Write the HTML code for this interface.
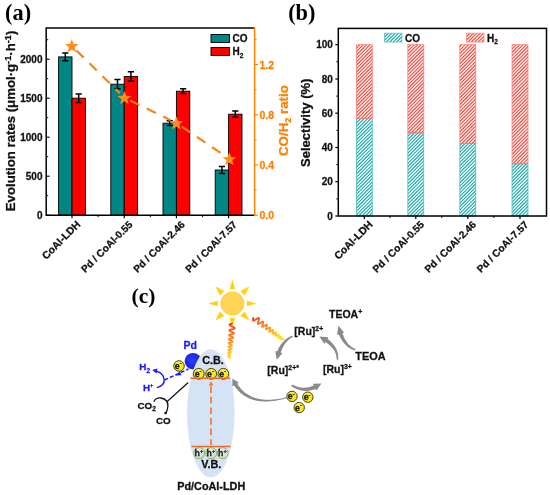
<!DOCTYPE html><html><head><meta charset="utf-8"><title>Figure</title><style>html,body{margin:0;padding:0;background:#fff}svg{display:block}text{font-family:"Liberation Sans",Arial,sans-serif;font-weight:bold}.ser{font-family:"Liberation Serif","Times New Roman",serif}</style></head><body>
<svg width="550" height="495" viewBox="0 0 550 495">
<defs>
<pattern id="ht" width="2.3" height="2.3" patternUnits="userSpaceOnUse" patternTransform="rotate(-45)"><rect width="2.3" height="2.3" fill="#fff"/><rect width="2.3" height="1.15" fill="#1fa3a3"/></pattern>
<pattern id="hr" width="2.3" height="2.3" patternUnits="userSpaceOnUse" patternTransform="rotate(-45)"><rect width="2.3" height="2.3" fill="#fff"/><rect width="2.3" height="1.15" fill="#ff4238"/></pattern>
<radialGradient id="sun" cx="0.5" cy="0.5" r="0.5"><stop offset="0" stop-color="#ffd86a"/><stop offset="0.7" stop-color="#ffc840"/><stop offset="1" stop-color="#ffb820"/></radialGradient>
<radialGradient id="eg" cx="0.4" cy="0.35" r="0.7"><stop offset="0" stop-color="#fff45a"/><stop offset="1" stop-color="#f5df00"/></radialGradient>
<linearGradient id="sq1" x1="0" y1="0" x2="0" y2="1"><stop offset="0" stop-color="#f2401a"/><stop offset="0.45" stop-color="#fb8c2a"/><stop offset="1" stop-color="#ffe21a"/></linearGradient>
<linearGradient id="sq2" x1="0" y1="0" x2="1" y2="0.7"><stop offset="0" stop-color="#f2401a"/><stop offset="0.45" stop-color="#fb8c2a"/><stop offset="1" stop-color="#ffe21a"/></linearGradient>
<radialGradient id="pdg" cx="0.45" cy="0.45" r="0.6"><stop offset="0" stop-color="#2a3cff"/><stop offset="1" stop-color="#1420d0"/></radialGradient>
<radialGradient id="hg" cx="0.5" cy="0.4" r="0.6"><stop offset="0" stop-color="#f4f6f2"/><stop offset="1" stop-color="#cfd8cc"/></radialGradient>
</defs>
<rect width="550" height="495" fill="#fff"/>
<text class="ser" x="5.1" y="19.6" font-size="22.3">(a)</text>
<rect x="58.6" y="56.9" width="13.4" height="158.3" fill="#008685" stroke="#000" stroke-width="0.9"/>
<rect x="72.0" y="98.2" width="13.4" height="117.0" fill="#ff0000" stroke="#000" stroke-width="0.9"/>
<path d="M65.3 53.0V60.8M62.2 53.0h6.2M62.2 60.8h6.2" stroke="#000" stroke-width="1.5" fill="none"/>
<path d="M78.7 93.9V102.5M75.6 93.9h6.2M75.6 102.5h6.2" stroke="#000" stroke-width="1.5" fill="none"/>
<rect x="110.8" y="84.2" width="13.4" height="131.0" fill="#008685" stroke="#000" stroke-width="0.9"/>
<rect x="124.2" y="76.4" width="13.4" height="138.8" fill="#ff0000" stroke="#000" stroke-width="0.9"/>
<path d="M117.5 79.5V88.8M114.4 79.5h6.2M114.4 88.8h6.2" stroke="#000" stroke-width="1.5" fill="none"/>
<path d="M130.9 71.7V81.0M127.8 71.7h6.2M127.8 81.0h6.2" stroke="#000" stroke-width="1.5" fill="none"/>
<rect x="163.0" y="123.2" width="13.4" height="92.0" fill="#008685" stroke="#000" stroke-width="0.9"/>
<rect x="176.4" y="91.2" width="13.4" height="124.0" fill="#ff0000" stroke="#000" stroke-width="0.9"/>
<path d="M169.7 120.8V125.5M166.6 120.8h6.2M166.6 125.5h6.2" stroke="#000" stroke-width="1.5" fill="none"/>
<path d="M183.1 88.8V93.5M180.0 88.8h6.2M180.0 93.5h6.2" stroke="#000" stroke-width="1.5" fill="none"/>
<rect x="215.2" y="170.0" width="13.4" height="45.2" fill="#008685" stroke="#000" stroke-width="0.9"/>
<rect x="228.6" y="114.2" width="13.4" height="101.0" fill="#ff0000" stroke="#000" stroke-width="0.9"/>
<path d="M221.9 166.4V173.5M218.8 166.4h6.2M218.8 173.5h6.2" stroke="#000" stroke-width="1.5" fill="none"/>
<path d="M235.3 111.1V117.3M232.2 111.1h6.2M232.2 117.3h6.2" stroke="#000" stroke-width="1.5" fill="none"/>
<path d="M46.2 27.9H254.6" stroke="#000" stroke-width="1.5" fill="none"/>
<path d="M46.2 27.15V215.2H254.6" stroke="#000" stroke-width="1.5" fill="none"/>
<path d="M254.6 27.15V215.95" stroke="#ff8000" stroke-width="1.5" fill="none"/>
<path d="M46.2 215.2h3.5" stroke="#000" stroke-width="1.1"/>
<text x="42.5" y="218.8" font-size="10" text-anchor="end" fill="#111" stroke="#111" stroke-width="0.28">0</text>
<path d="M46.2 176.2h3.5" stroke="#000" stroke-width="1.1"/>
<text x="42.5" y="179.8" font-size="10" text-anchor="end" fill="#111" stroke="#111" stroke-width="0.28">500</text>
<path d="M46.2 137.2h3.5" stroke="#000" stroke-width="1.1"/>
<text x="42.5" y="140.8" font-size="10" text-anchor="end" fill="#111" stroke="#111" stroke-width="0.28">1000</text>
<path d="M46.2 98.2h3.5" stroke="#000" stroke-width="1.1"/>
<text x="42.5" y="101.8" font-size="10" text-anchor="end" fill="#111" stroke="#111" stroke-width="0.28">1500</text>
<path d="M46.2 59.2h3.5" stroke="#000" stroke-width="1.1"/>
<text x="42.5" y="62.8" font-size="10" text-anchor="end" fill="#111" stroke="#111" stroke-width="0.28">2000</text>
<path d="M46.2 195.7h2" stroke="#000" stroke-width="1"/>
<path d="M46.2 156.7h2" stroke="#000" stroke-width="1"/>
<path d="M46.2 117.7h2" stroke="#000" stroke-width="1"/>
<path d="M46.2 78.7h2" stroke="#000" stroke-width="1"/>
<path d="M46.2 39.7h2" stroke="#000" stroke-width="1"/>
<path d="M72.0 215.2v3" stroke="#000" stroke-width="1.2"/>
<path d="M124.2 215.2v3" stroke="#000" stroke-width="1.2"/>
<path d="M176.4 215.2v3" stroke="#000" stroke-width="1.2"/>
<path d="M228.6 215.2v3" stroke="#000" stroke-width="1.2"/>
<path d="M98.1 215.2v2" stroke="#000" stroke-width="1"/>
<path d="M150.3 215.2v2" stroke="#000" stroke-width="1"/>
<path d="M202.5 215.2v2" stroke="#000" stroke-width="1"/>
<path d="M254.6 215.2h3.5" stroke="#ff8000" stroke-width="1.1"/>
<text x="259.4" y="219.3" font-size="10.5" fill="#ff8000" stroke="#ff8000" stroke-width="0.28">0.0</text>
<path d="M254.6 165.0h3.5" stroke="#ff8000" stroke-width="1.1"/>
<text x="259.4" y="169.1" font-size="10.5" fill="#ff8000" stroke="#ff8000" stroke-width="0.28">0.4</text>
<path d="M254.6 114.7h3.5" stroke="#ff8000" stroke-width="1.1"/>
<text x="259.4" y="118.8" font-size="10.5" fill="#ff8000" stroke="#ff8000" stroke-width="0.28">0.8</text>
<path d="M254.6 64.5h3.5" stroke="#ff8000" stroke-width="1.1"/>
<text x="259.4" y="68.6" font-size="10.5" fill="#ff8000" stroke="#ff8000" stroke-width="0.28">1.2</text>
<path d="M254.6 190.1h2" stroke="#ff8000" stroke-width="1"/>
<path d="M254.6 139.8h2" stroke="#ff8000" stroke-width="1"/>
<path d="M254.6 89.6h2" stroke="#ff8000" stroke-width="1"/>
<path d="M254.6 39.4h2" stroke="#ff8000" stroke-width="1"/>
<path d="M76.43 50.47L119.77 93.23" stroke="#ff8214" stroke-width="2.2" stroke-dasharray="10.2 8.1" fill="none"/>
<path d="M130.25 100.63L170.55 120.17" stroke="#ff8214" stroke-width="2.2" stroke-dasharray="10.2 8.1" fill="none"/>
<path d="M181.78 126.65L224.02 155.25" stroke="#ff8214" stroke-width="2.2" stroke-dasharray="10.2 8.1" fill="none"/>
<polygon points="71.80,39.10 73.56,43.97 78.74,44.14 74.65,47.33 76.09,52.31 71.80,49.40 67.51,52.31 68.95,47.33 64.86,44.14 70.04,43.97" fill="#ff8c1a"/>
<polygon points="124.40,91.00 126.16,95.87 131.34,96.04 127.25,99.23 128.69,104.21 124.40,101.30 120.11,104.21 121.55,99.23 117.46,96.04 122.64,95.87" fill="#ff8c1a"/>
<polygon points="176.40,116.20 178.16,121.07 183.34,121.24 179.25,124.43 180.69,129.41 176.40,126.50 172.11,129.41 173.55,124.43 169.46,121.24 174.64,121.07" fill="#ff8c1a"/>
<polygon points="229.40,152.10 231.16,156.97 236.34,157.14 232.25,160.33 233.69,165.31 229.40,162.40 225.11,165.31 226.55,160.33 222.46,157.14 227.64,156.97" fill="#ff8c1a"/>
<rect x="211" y="34.5" width="18.5" height="8" fill="#008685" stroke="#000" stroke-width="0.9"/>
<rect x="211" y="47.5" width="18.5" height="8" fill="#ff0000" stroke="#000" stroke-width="0.9"/>
<text x="232.5" y="42.3" font-size="10" fill="#111" stroke="#111" stroke-width="0.28">CO</text>
<text x="232.5" y="55.3" font-size="10" fill="#111" stroke="#111" stroke-width="0.28">H<tspan font-size="6.5" dy="2.5">2</tspan></text>
<text transform="translate(14.9,211.2) rotate(-90)" font-size="13.2" fill="#111" stroke="#111" stroke-width="0.28">Evolution rates (μmol·g<tspan font-size="9.2" dy="-3.6">-1</tspan><tspan dy="3.6">·h</tspan><tspan font-size="9.2" dy="-3.6">-1</tspan><tspan dy="3.6">)</tspan></text>
<text transform="translate(288,156) rotate(-90)" font-size="13.3" fill="#ff8000" stroke="#ff8000" stroke-width="0.28">CO/H<tspan font-size="9" dy="3.3">2</tspan><tspan dy="-3.3"> ratio</tspan></text>
<text transform="translate(81.0,225.2) rotate(-45)" font-size="10.45" text-anchor="end" fill="#111" stroke="#111" stroke-width="0.28">CoAl-LDH</text>
<text transform="translate(133.2,225.2) rotate(-45)" font-size="10.1" text-anchor="end" fill="#111" stroke="#111" stroke-width="0.28">Pd / CoAl-0.55</text>
<text transform="translate(185.4,225.2) rotate(-45)" font-size="10.1" text-anchor="end" fill="#111" stroke="#111" stroke-width="0.28">Pd / CoAl-2.46</text>
<text transform="translate(237.6,225.2) rotate(-45)" font-size="10.1" text-anchor="end" fill="#111" stroke="#111" stroke-width="0.28">Pd / CoAl-7.57</text>
<text class="ser" x="288.2" y="19.6" font-size="22.3">(b)</text>
<clipPath id="c1"><rect x="356.35" y="118.36" width="15.90" height="97.64"/></clipPath>
<path d="M255.60 217.00L355.24 117.36M259.00 217.00L358.64 117.36M262.40 217.00L362.04 117.36M265.80 217.00L365.44 117.36M269.20 217.00L368.84 117.36M272.60 217.00L372.24 117.36M276.00 217.00L375.64 117.36M279.40 217.00L379.04 117.36M282.80 217.00L382.44 117.36M286.20 217.00L385.84 117.36M289.60 217.00L389.24 117.36M293.00 217.00L392.64 117.36M296.40 217.00L396.04 117.36M299.80 217.00L399.44 117.36M303.20 217.00L402.84 117.36M306.60 217.00L406.24 117.36M310.00 217.00L409.64 117.36M313.40 217.00L413.04 117.36M316.80 217.00L416.44 117.36M320.20 217.00L419.84 117.36M323.60 217.00L423.24 117.36M327.00 217.00L426.64 117.36M330.40 217.00L430.04 117.36M333.80 217.00L433.44 117.36M337.20 217.00L436.84 117.36M340.60 217.00L440.24 117.36M344.00 217.00L443.64 117.36M347.40 217.00L447.04 117.36M350.80 217.00L450.44 117.36M354.20 217.00L453.84 117.36M357.60 217.00L457.24 117.36M361.00 217.00L460.64 117.36M364.40 217.00L464.04 117.36M367.80 217.00L467.44 117.36M371.20 217.00L470.84 117.36M374.60 217.00L474.24 117.36" stroke="#1aa8a8" stroke-width="1.15" fill="none" clip-path="url(#c1)"/>
<rect x="356.35" y="118.36" width="15.90" height="97.64" fill="none" stroke="#45bcbc" stroke-width="0.8"/>
<clipPath id="c2"><rect x="356.35" y="44.70" width="15.90" height="73.66"/></clipPath>
<path d="M278.44 119.36L354.10 43.70M281.84 119.36L357.50 43.70M285.24 119.36L360.90 43.70M288.64 119.36L364.30 43.70M292.04 119.36L367.70 43.70M295.44 119.36L371.10 43.70M298.84 119.36L374.50 43.70M302.24 119.36L377.90 43.70M305.64 119.36L381.30 43.70M309.04 119.36L384.70 43.70M312.44 119.36L388.10 43.70M315.84 119.36L391.50 43.70M319.24 119.36L394.90 43.70M322.64 119.36L398.30 43.70M326.04 119.36L401.70 43.70M329.44 119.36L405.10 43.70M332.84 119.36L408.50 43.70M336.24 119.36L411.90 43.70M339.64 119.36L415.30 43.70M343.04 119.36L418.70 43.70M346.44 119.36L422.10 43.70M349.84 119.36L425.50 43.70M353.24 119.36L428.90 43.70M356.64 119.36L432.30 43.70M360.04 119.36L435.70 43.70M363.44 119.36L439.10 43.70M366.84 119.36L442.50 43.70M370.24 119.36L445.90 43.70M373.64 119.36L449.30 43.70" stroke="#ff4238" stroke-width="1.15" fill="none" clip-path="url(#c2)"/>
<rect x="356.35" y="44.70" width="15.90" height="73.66" fill="none" stroke="#ff7a72" stroke-width="0.8"/>
<clipPath id="c3"><rect x="407.85" y="132.92" width="15.90" height="83.08"/></clipPath>
<path d="M323.60 217.00L408.68 131.92M327.00 217.00L412.08 131.92M330.40 217.00L415.48 131.92M333.80 217.00L418.88 131.92M337.20 217.00L422.28 131.92M340.60 217.00L425.68 131.92M344.00 217.00L429.08 131.92M347.40 217.00L432.48 131.92M350.80 217.00L435.88 131.92M354.20 217.00L439.28 131.92M357.60 217.00L442.68 131.92M361.00 217.00L446.08 131.92M364.40 217.00L449.48 131.92M367.80 217.00L452.88 131.92M371.20 217.00L456.28 131.92M374.60 217.00L459.68 131.92M378.00 217.00L463.08 131.92M381.40 217.00L466.48 131.92M384.80 217.00L469.88 131.92M388.20 217.00L473.28 131.92M391.60 217.00L476.68 131.92M395.00 217.00L480.08 131.92M398.40 217.00L483.48 131.92M401.80 217.00L486.88 131.92M405.20 217.00L490.28 131.92M408.60 217.00L493.68 131.92M412.00 217.00L497.08 131.92M415.40 217.00L500.48 131.92M418.80 217.00L503.88 131.92M422.20 217.00L507.28 131.92M425.60 217.00L510.68 131.92" stroke="#1aa8a8" stroke-width="1.15" fill="none" clip-path="url(#c3)"/>
<rect x="407.85" y="132.92" width="15.90" height="83.08" fill="none" stroke="#45bcbc" stroke-width="0.8"/>
<clipPath id="c4"><rect x="407.85" y="44.70" width="15.90" height="88.22"/></clipPath>
<path d="M318.28 133.92L408.50 43.70M321.68 133.92L411.90 43.70M325.08 133.92L415.30 43.70M328.48 133.92L418.70 43.70M331.88 133.92L422.10 43.70M335.28 133.92L425.50 43.70M338.68 133.92L428.90 43.70M342.08 133.92L432.30 43.70M345.48 133.92L435.70 43.70M348.88 133.92L439.10 43.70M352.28 133.92L442.50 43.70M355.68 133.92L445.90 43.70M359.08 133.92L449.30 43.70M362.48 133.92L452.70 43.70M365.88 133.92L456.10 43.70M369.28 133.92L459.50 43.70M372.68 133.92L462.90 43.70M376.08 133.92L466.30 43.70M379.48 133.92L469.70 43.70M382.88 133.92L473.10 43.70M386.28 133.92L476.50 43.70M389.68 133.92L479.90 43.70M393.08 133.92L483.30 43.70M396.48 133.92L486.70 43.70M399.88 133.92L490.10 43.70M403.28 133.92L493.50 43.70M406.68 133.92L496.90 43.70M410.08 133.92L500.30 43.70M413.48 133.92L503.70 43.70M416.88 133.92L507.10 43.70M420.28 133.92L510.50 43.70M423.68 133.92L513.90 43.70" stroke="#ff4238" stroke-width="1.15" fill="none" clip-path="url(#c4)"/>
<rect x="407.85" y="44.70" width="15.90" height="88.22" fill="none" stroke="#ff7a72" stroke-width="0.8"/>
<clipPath id="c5"><rect x="459.85" y="143.54" width="15.90" height="72.46"/></clipPath>
<path d="M384.80 217.00L459.26 142.54M388.20 217.00L462.66 142.54M391.60 217.00L466.06 142.54M395.00 217.00L469.46 142.54M398.40 217.00L472.86 142.54M401.80 217.00L476.26 142.54M405.20 217.00L479.66 142.54M408.60 217.00L483.06 142.54M412.00 217.00L486.46 142.54M415.40 217.00L489.86 142.54M418.80 217.00L493.26 142.54M422.20 217.00L496.66 142.54M425.60 217.00L500.06 142.54M429.00 217.00L503.46 142.54M432.40 217.00L506.86 142.54M435.80 217.00L510.26 142.54M439.20 217.00L513.66 142.54M442.60 217.00L517.06 142.54M446.00 217.00L520.46 142.54M449.40 217.00L523.86 142.54M452.80 217.00L527.26 142.54M456.20 217.00L530.66 142.54M459.60 217.00L534.06 142.54M463.00 217.00L537.46 142.54M466.40 217.00L540.86 142.54M469.80 217.00L544.26 142.54M473.20 217.00L547.66 142.54M476.60 217.00L551.06 142.54" stroke="#1aa8a8" stroke-width="1.15" fill="none" clip-path="url(#c5)"/>
<rect x="459.85" y="143.54" width="15.90" height="72.46" fill="none" stroke="#45bcbc" stroke-width="0.8"/>
<clipPath id="c6"><rect x="459.85" y="44.70" width="15.90" height="98.84"/></clipPath>
<path d="M358.66 144.54L459.50 43.70M362.06 144.54L462.90 43.70M365.46 144.54L466.30 43.70M368.86 144.54L469.70 43.70M372.26 144.54L473.10 43.70M375.66 144.54L476.50 43.70M379.06 144.54L479.90 43.70M382.46 144.54L483.30 43.70M385.86 144.54L486.70 43.70M389.26 144.54L490.10 43.70M392.66 144.54L493.50 43.70M396.06 144.54L496.90 43.70M399.46 144.54L500.30 43.70M402.86 144.54L503.70 43.70M406.26 144.54L507.10 43.70M409.66 144.54L510.50 43.70M413.06 144.54L513.90 43.70M416.46 144.54L517.30 43.70M419.86 144.54L520.70 43.70M423.26 144.54L524.10 43.70M426.66 144.54L527.50 43.70M430.06 144.54L530.90 43.70M433.46 144.54L534.30 43.70M436.86 144.54L537.70 43.70M440.26 144.54L541.10 43.70M443.66 144.54L544.50 43.70M447.06 144.54L547.90 43.70M450.46 144.54L551.30 43.70M453.86 144.54L554.70 43.70M457.26 144.54L558.10 43.70M460.66 144.54L561.50 43.70M464.06 144.54L564.90 43.70M467.46 144.54L568.30 43.70M470.86 144.54L571.70 43.70M474.26 144.54L575.10 43.70M477.66 144.54L578.50 43.70" stroke="#ff4238" stroke-width="1.15" fill="none" clip-path="url(#c6)"/>
<rect x="459.85" y="44.70" width="15.90" height="98.84" fill="none" stroke="#ff7a72" stroke-width="0.8"/>
<clipPath id="c7"><rect x="512.05" y="163.75" width="15.90" height="52.25"/></clipPath>
<path d="M456.20 217.00L510.45 162.75M459.60 217.00L513.85 162.75M463.00 217.00L517.25 162.75M466.40 217.00L520.65 162.75M469.80 217.00L524.05 162.75M473.20 217.00L527.45 162.75M476.60 217.00L530.85 162.75M480.00 217.00L534.25 162.75M483.40 217.00L537.65 162.75M486.80 217.00L541.05 162.75M490.20 217.00L544.45 162.75M493.60 217.00L547.85 162.75M497.00 217.00L551.25 162.75M500.40 217.00L554.65 162.75M503.80 217.00L558.05 162.75M507.20 217.00L561.45 162.75M510.60 217.00L564.85 162.75M514.00 217.00L568.25 162.75M517.40 217.00L571.65 162.75M520.80 217.00L575.05 162.75M524.20 217.00L578.45 162.75M527.60 217.00L581.85 162.75" stroke="#1aa8a8" stroke-width="1.15" fill="none" clip-path="url(#c7)"/>
<rect x="512.05" y="163.75" width="15.90" height="52.25" fill="none" stroke="#45bcbc" stroke-width="0.8"/>
<clipPath id="c8"><rect x="512.05" y="44.70" width="15.90" height="119.05"/></clipPath>
<path d="M389.45 164.75L510.50 43.70M392.85 164.75L513.90 43.70M396.25 164.75L517.30 43.70M399.65 164.75L520.70 43.70M403.05 164.75L524.10 43.70M406.45 164.75L527.50 43.70M409.85 164.75L530.90 43.70M413.25 164.75L534.30 43.70M416.65 164.75L537.70 43.70M420.05 164.75L541.10 43.70M423.45 164.75L544.50 43.70M426.85 164.75L547.90 43.70M430.25 164.75L551.30 43.70M433.65 164.75L554.70 43.70M437.05 164.75L558.10 43.70M440.45 164.75L561.50 43.70M443.85 164.75L564.90 43.70M447.25 164.75L568.30 43.70M450.65 164.75L571.70 43.70M454.05 164.75L575.10 43.70M457.45 164.75L578.50 43.70M460.85 164.75L581.90 43.70M464.25 164.75L585.30 43.70M467.65 164.75L588.70 43.70M471.05 164.75L592.10 43.70M474.45 164.75L595.50 43.70M477.85 164.75L598.90 43.70M481.25 164.75L602.30 43.70M484.65 164.75L605.70 43.70M488.05 164.75L609.10 43.70M491.45 164.75L612.50 43.70M494.85 164.75L615.90 43.70M498.25 164.75L619.30 43.70M501.65 164.75L622.70 43.70M505.05 164.75L626.10 43.70M508.45 164.75L629.50 43.70M511.85 164.75L632.90 43.70M515.25 164.75L636.30 43.70M518.65 164.75L639.70 43.70M522.05 164.75L643.10 43.70M525.45 164.75L646.50 43.70M528.85 164.75L649.90 43.70" stroke="#ff4238" stroke-width="1.15" fill="none" clip-path="url(#c8)"/>
<rect x="512.05" y="44.70" width="15.90" height="119.05" fill="none" stroke="#ff7a72" stroke-width="0.8"/>
<rect x="338.3" y="28.4" width="208.2" height="187.6" fill="none" stroke="#000" stroke-width="1.5"/>
<path d="M338.3 216.0h-3" stroke="#000" stroke-width="1.2"/>
<text x="332.9" y="219.6" font-size="10" text-anchor="end" fill="#111" stroke="#111" stroke-width="0.28">0</text>
<path d="M338.3 181.7h-3" stroke="#000" stroke-width="1.2"/>
<text x="332.9" y="185.3" font-size="10" text-anchor="end" fill="#111" stroke="#111" stroke-width="0.28">20</text>
<path d="M338.3 147.5h-3" stroke="#000" stroke-width="1.2"/>
<text x="332.9" y="151.1" font-size="10" text-anchor="end" fill="#111" stroke="#111" stroke-width="0.28">40</text>
<path d="M338.3 113.2h-3" stroke="#000" stroke-width="1.2"/>
<text x="332.9" y="116.8" font-size="10" text-anchor="end" fill="#111" stroke="#111" stroke-width="0.28">60</text>
<path d="M338.3 79.0h-3" stroke="#000" stroke-width="1.2"/>
<text x="332.9" y="82.6" font-size="10" text-anchor="end" fill="#111" stroke="#111" stroke-width="0.28">80</text>
<path d="M338.3 44.7h-3" stroke="#000" stroke-width="1.2"/>
<text x="332.9" y="48.3" font-size="10" text-anchor="end" fill="#111" stroke="#111" stroke-width="0.28">100</text>
<path d="M338.3 198.9h-2" stroke="#000" stroke-width="1"/>
<path d="M338.3 164.6h-2" stroke="#000" stroke-width="1"/>
<path d="M338.3 130.3h-2" stroke="#000" stroke-width="1"/>
<path d="M338.3 96.1h-2" stroke="#000" stroke-width="1"/>
<path d="M338.3 61.8h-2" stroke="#000" stroke-width="1"/>
<path d="M364.3 216.0v3" stroke="#000" stroke-width="1.2"/>
<path d="M415.8 216.0v3" stroke="#000" stroke-width="1.2"/>
<path d="M467.8 216.0v3" stroke="#000" stroke-width="1.2"/>
<path d="M520.0 216.0v3" stroke="#000" stroke-width="1.2"/>
<path d="M390.0 216.0v2" stroke="#000" stroke-width="1"/>
<path d="M441.8 216.0v2" stroke="#000" stroke-width="1"/>
<path d="M493.9 216.0v2" stroke="#000" stroke-width="1"/>
<clipPath id="c9"><rect x="384.50" y="33.20" width="17.50" height="8.80"/></clipPath>
<path d="M371.80 43.00L382.60 32.20M375.20 43.00L386.00 32.20M378.60 43.00L389.40 32.20M382.00 43.00L392.80 32.20M385.40 43.00L396.20 32.20M388.80 43.00L399.60 32.20M392.20 43.00L403.00 32.20M395.60 43.00L406.40 32.20M399.00 43.00L409.80 32.20M402.40 43.00L413.20 32.20" stroke="#1aa8a8" stroke-width="1.15" fill="none" clip-path="url(#c9)"/>
<rect x="384.50" y="33.20" width="17.50" height="8.80" fill="none" stroke="#5fc0bc" stroke-width="0.8"/>
<text x="405" y="41.5" font-size="10" fill="#111" stroke="#111" stroke-width="0.28">CO</text>
<clipPath id="c10"><rect x="466.50" y="33.20" width="17.50" height="8.80"/></clipPath>
<path d="M453.40 43.00L464.20 32.20M456.80 43.00L467.60 32.20M460.20 43.00L471.00 32.20M463.60 43.00L474.40 32.20M467.00 43.00L477.80 32.20M470.40 43.00L481.20 32.20M473.80 43.00L484.60 32.20M477.20 43.00L488.00 32.20M480.60 43.00L491.40 32.20M484.00 43.00L494.80 32.20" stroke="#ff4238" stroke-width="1.15" fill="none" clip-path="url(#c10)"/>
<rect x="466.50" y="33.20" width="17.50" height="8.80" fill="none" stroke="#ff8078" stroke-width="0.8"/>
<text x="487" y="41.5" font-size="10" fill="#111" stroke="#111" stroke-width="0.28">H<tspan font-size="6.5" dy="2.5">2</tspan></text>
<text transform="translate(310.2,167) rotate(-90)" font-size="13.05" fill="#111" stroke="#111" stroke-width="0.28">Selectivity (%)</text>
<text transform="translate(373.3,225.2) rotate(-45)" font-size="10.45" text-anchor="end" fill="#111" stroke="#111" stroke-width="0.28">CoAl-LDH</text>
<text transform="translate(424.8,225.2) rotate(-45)" font-size="10.1" text-anchor="end" fill="#111" stroke="#111" stroke-width="0.28">Pd / CoAl-0.55</text>
<text transform="translate(476.8,225.2) rotate(-45)" font-size="10.1" text-anchor="end" fill="#111" stroke="#111" stroke-width="0.28">Pd / CoAl-2.46</text>
<text transform="translate(529.0,225.2) rotate(-45)" font-size="10.1" text-anchor="end" fill="#111" stroke="#111" stroke-width="0.28">Pd / CoAl-7.57</text>
<text class="ser" x="131.5" y="302.5" font-size="21.5">(c)</text>
<circle cx="193" cy="361.2" r="8.3" fill="url(#pdg)"/>
<ellipse cx="210.8" cy="413.3" rx="23.8" ry="64" fill="#d6e3f4"/>
<polygon points="232.4,279.9 234.9,288.9 229.9,288.9" fill="#ffcf0a" stroke="#ffd84a" stroke-width="0.5"/>
<polygon points="249.1,286.8 244.8,295.3 240.6,291.1" fill="#ffcf0a" stroke="#ffd84a" stroke-width="0.5"/>
<polygon points="256.0,303.5 247.0,306.0 247.0,301.0" fill="#ffcf0a" stroke="#ffd84a" stroke-width="0.5"/>
<polygon points="249.1,320.2 240.6,315.9 244.8,311.7" fill="#ffcf0a" stroke="#ffd84a" stroke-width="0.5"/>
<polygon points="232.4,327.1 229.9,318.1 234.9,318.1" fill="#ffcf0a" stroke="#ffd84a" stroke-width="0.5"/>
<polygon points="215.7,320.2 220.0,311.7 224.2,315.9" fill="#ffcf0a" stroke="#ffd84a" stroke-width="0.5"/>
<polygon points="208.8,303.5 217.8,301.0 217.8,306.0" fill="#ffcf0a" stroke="#ffd84a" stroke-width="0.5"/>
<polygon points="215.7,286.8 224.2,291.1 220.0,295.3" fill="#ffcf0a" stroke="#ffd84a" stroke-width="0.5"/>
<circle cx="232.4" cy="303.5" r="11.6" fill="#ffd555" stroke="#ffcb30" stroke-width="0.8"/>
<path d="M232.6 323.5 L231.9 323.7 L231.2 323.8 L230.7 324.0 L230.2 324.2 L229.8 324.4 L229.7 324.7 L229.6 324.9 L229.8 325.2 L230.1 325.4 L230.6 325.7 L231.2 326.1 L231.9 326.4 L232.5 326.7 L233.2 327.0 L233.8 327.3 L234.3 327.6 L234.6 327.9 L234.8 328.2 L234.7 328.4 L234.4 328.6 L234.0 328.8 L233.4 329.0 L232.7 329.2 L232.0 329.3 L231.2 329.5 L230.5 329.7 L229.9 329.9 L229.5 330.1 L229.3 330.3 L229.4 330.5 L229.6 330.8 L230.0 331.1 L230.6 331.4 L231.3 331.7 L232.1 332.0 L232.7 332.4 L233.3 332.7 L233.7 333.0 L233.9 333.2 L233.9 333.5 L233.6 333.7 L233.1 333.9 L232.4 334.1 L231.6 334.2 L230.9 334.4 L230.1 334.5 L229.6 334.7 L229.2 334.9 L229.1 335.2 L229.2 335.4 L229.6 335.7 L230.2 336.0 L230.9 336.3 L231.6 336.7 L232.3 337.0 L232.8 337.3 L233.1 337.6 L233.2 337.8 L233.0 338.0 L232.5 338.2 L231.8 338.4 L231.1 338.6 L230.3 338.7 L229.6 338.9 L229.1 339.1 L228.9 339.3 L228.9 339.6 L229.2 339.9 L229.8 340.2 L230.5 340.5 L231.2 340.8 L231.8 341.1 L232.3 341.4 L232.5 341.7 L232.5 341.9 L232.1 342.1 L231.5 342.3 L230.8 342.5 L230.0 342.6 L229.3 342.8 L228.8 343.0 L228.6 343.2 L228.7 343.5 L229.1 343.8 L229.7 344.1 L230.4 344.4 L231.1 344.7 L231.6 345.0 L231.9 345.3 L231.9 345.6 L231.6 345.8 L231.0 345.9 L230.3 346.1 L229.5 346.3 L228.9 346.5 L228.5 346.7 L228.4 346.9 L228.7 347.2 L229.2 347.5 L229.8 347.8 L230.5 348.1 L231.0 348.4 L231.4 348.7 L231.4 348.9 L231.0 349.2 L230.5 349.3 L229.8 349.5 L229.1 349.7 L228.5 349.9 L228.3 350.1 L228.3 350.3 L228.7 350.6 L229.2 350.9 L229.9 351.2 L230.4 351.5 L230.8 351.8 L230.9 352.1 L230.6 352.3 L230.1 352.5 L229.4 352.7 L228.8 352.8 L228.3 353.0 L228.1 353.3 L228.2 353.5 L228.6 353.8 L229.1 354.1 L229.7 354.4 L230.2 354.7 L230.4 355.0 L230.3 355.2 L229.9 355.4 L229.3 355.6 L228.7 355.8 L228.2 356.0 L227.9 356.2 L228.0 356.4 L228.3 356.7 L228.8 357.0 L229.4 357.3 L229.8 357.6 L229.9 357.9 L229.8 358.1 L229.4 358.3 L228.8 358.5" stroke="url(#sq1)" stroke-width="1.9" fill="none" stroke-linejoin="round"/>
<path d="M253.5 317.3 L253.3 318.0 L253.1 318.7 L253.0 319.3 L252.9 319.8 L252.9 320.2 L253.1 320.5 L253.3 320.6 L253.6 320.6 L254.0 320.5 L254.5 320.3 L255.1 319.9 L255.7 319.5 L256.4 319.1 L257.0 318.7 L257.6 318.4 L258.1 318.1 L258.5 318.0 L258.8 318.0 L259.0 318.2 L259.1 318.5 L259.1 319.0 L258.9 319.6 L258.7 320.3 L258.5 321.1 L258.2 321.8 L258.1 322.5 L257.9 323.1 L257.9 323.6 L258.0 323.9 L258.2 324.0 L258.6 323.9 L259.1 323.7 L259.7 323.4 L260.3 323.0 L261.0 322.5 L261.6 322.1 L262.2 321.8 L262.7 321.6 L263.0 321.6 L263.2 321.7 L263.3 322.1 L263.2 322.7 L263.0 323.3 L262.8 324.1 L262.5 324.8 L262.3 325.6 L262.2 326.2 L262.2 326.6 L262.3 326.8 L262.6 326.8 L263.1 326.7 L263.6 326.4 L264.3 325.9 L265.0 325.5 L265.6 325.1 L266.2 324.8 L266.6 324.7 L266.8 324.7 L266.9 325.1 L266.9 325.6 L266.7 326.2 L266.4 327.0 L266.2 327.8 L266.0 328.4 L265.9 329.0 L266.0 329.3 L266.2 329.4 L266.7 329.3 L267.2 329.0 L267.9 328.6 L268.5 328.1 L269.1 327.7 L269.7 327.5 L270.0 327.5 L270.2 327.6 L270.2 328.1 L270.1 328.7 L269.8 329.4 L269.6 330.2 L269.4 330.9 L269.3 331.4 L269.4 331.7 L269.7 331.7 L270.2 331.6 L270.8 331.2 L271.4 330.8 L272.1 330.4 L272.6 330.1 L273.0 330.0 L273.2 330.1 L273.2 330.6 L273.1 331.2 L272.9 331.9 L272.7 332.6 L272.5 333.2 L272.5 333.7 L272.7 333.9 L273.0 333.8 L273.6 333.6 L274.2 333.2 L274.8 332.8 L275.4 332.5 L275.8 332.4 L276.0 332.5 L276.0 332.9 L275.9 333.5 L275.7 334.2 L275.5 334.9 L275.4 335.4 L275.5 335.8 L275.7 335.9 L276.2 335.7 L276.7 335.4 L277.3 335.1 L277.9 334.7 L278.3 334.6 L278.6 334.7 L278.7 335.0 L278.6 335.6 L278.4 336.2 L278.2 336.9 L278.2 337.4 L278.3 337.7 L278.6 337.8 L279.0 337.6 L279.6 337.3 L280.2 336.9 L280.7 336.7 L281.0 336.7 L281.2 336.9 L281.1 337.4 L281.0 338.0 L280.9 338.6 L280.8 339.1 L280.9 339.5 L281.1 339.6 L281.5 339.4 L282.1 339.2 L282.6 338.9 L283.1 338.7 L283.4 338.7 L283.5 339.0 L283.5 339.4 L283.4 340.0" stroke="url(#sq2)" stroke-width="1.9" fill="none" stroke-linejoin="round"/>
<text x="183.4" y="349.3" font-size="10.5" fill="#1a1aff" stroke="#1a1aff" stroke-width="0.28">Pd</text>
<text x="202.2" y="364.2" font-size="10.8" fill="#111" stroke="#111" stroke-width="0.28">C.B.</text>
<circle cx="198.8" cy="373.8" r="5.4" fill="url(#eg)" stroke="#3a3400" stroke-width="0.9"/>
<text x="198.0" y="376.7" font-size="8.8" text-anchor="middle" fill="#111" stroke="#111" stroke-width="0.28">e<tspan font-size="5.5" dy="-3.6">-</tspan></text>
<circle cx="211.2" cy="373.8" r="5.4" fill="url(#eg)" stroke="#3a3400" stroke-width="0.9"/>
<text x="210.39999999999998" y="376.7" font-size="8.8" text-anchor="middle" fill="#111" stroke="#111" stroke-width="0.28">e<tspan font-size="5.5" dy="-3.6">-</tspan></text>
<circle cx="223.4" cy="373.8" r="5.4" fill="url(#eg)" stroke="#3a3400" stroke-width="0.9"/>
<text x="222.6" y="376.7" font-size="8.8" text-anchor="middle" fill="#111" stroke="#111" stroke-width="0.28">e<tspan font-size="5.5" dy="-3.6">-</tspan></text>
<circle cx="179" cy="366" r="5.3" fill="url(#eg)" stroke="#3a3400" stroke-width="0.9"/>
<text x="178.2" y="368.9" font-size="8.8" text-anchor="middle" fill="#111" stroke="#111" stroke-width="0.28">e<tspan font-size="5.5" dy="-3.6">-</tspan></text>
<path d="M190.4 378.3H230" stroke="#ea6a30" stroke-width="1.5"/>
<path d="M191.4 446.4H230.7" stroke="#ea6a30" stroke-width="1.5"/>
<path d="M211 386.2V445" stroke="#ee7230" stroke-width="1.6" stroke-dasharray="6.7 3.9"/>
<polygon points="211,381.2 208.7,385.6 213.3,385.6" fill="#ee7230"/>
<circle cx="199.1" cy="453.1" r="5.5" fill="url(#hg)" stroke="#7ab354" stroke-width="0.9"/>
<text x="198.79999999999998" y="456.4" font-size="8.8" text-anchor="middle" fill="#222" stroke="#222" stroke-width="0.28">h<tspan font-size="5.5" dy="-3.6">+</tspan></text>
<circle cx="211.1" cy="453.1" r="5.5" fill="url(#hg)" stroke="#7ab354" stroke-width="0.9"/>
<text x="210.79999999999998" y="456.4" font-size="8.8" text-anchor="middle" fill="#222" stroke="#222" stroke-width="0.28">h<tspan font-size="5.5" dy="-3.6">+</tspan></text>
<circle cx="222.7" cy="453.1" r="5.5" fill="url(#hg)" stroke="#7ab354" stroke-width="0.9"/>
<text x="222.39999999999998" y="456.4" font-size="8.8" text-anchor="middle" fill="#222" stroke="#222" stroke-width="0.28">h<tspan font-size="5.5" dy="-3.6">+</tspan></text>
<text x="201.2" y="467.7" font-size="10.8" fill="#111" stroke="#111" stroke-width="0.28">V.B.</text>
<text x="177.2" y="490" font-size="10.85" fill="#111" stroke="#111" stroke-width="0.28">Pd/CoAl-LDH</text>
<text x="139.3" y="370.1" font-size="9.8" fill="#1a1aff" stroke="#1a1aff" stroke-width="0.28">H<tspan font-size="6.5" dy="2.5">2</tspan></text>
<text x="143" y="391" font-size="9.8" fill="#1a1aff" stroke="#1a1aff" stroke-width="0.28">H<tspan font-size="6" dy="-4.2" dx="-0.3">+</tspan></text>
<path d="M156.8 387.6 Q164.5 385.5 164.2 380 Q163.5 372.5 155.5 371" stroke="#1a1aff" stroke-width="1.5" fill="none"/>
<polygon points="152.2,370 157.4,368.6 156.6,373.4" fill="#1a1aff"/>
<path d="M164.4 380 L188.5 369" stroke="#1a1aff" stroke-width="1.5" stroke-dasharray="4 2" fill="none"/>
<polygon points="175.5,375.6 179.8,371.6 181.4,375.3" fill="#1a1aff"/>
<path d="M188.2 382.5 L167.2 401.5" stroke="#111" stroke-width="1.2" fill="none"/>
<path d="M153.8 401.6 Q156 397.4 161 398 Q168.2 399.4 167.9 406 Q167.6 410 166 413" stroke="#111" stroke-width="1.3" fill="none"/>
<circle cx="165.6" cy="413" r="1.3" fill="#111"/>
<text x="137.5" y="408.7" font-size="9.8" fill="#111" stroke="#111" stroke-width="0.28">CO<tspan font-size="6.5" dy="2.5">2</tspan></text>
<text x="156" y="423.5" font-size="9.8" fill="#111" stroke="#111" stroke-width="0.28">CO</text>
<text x="294.3" y="335.3" font-size="10.5" fill="#111" stroke="#111" stroke-width="0.28">[Ru]<tspan font-size="6.9" dy="-4">2+</tspan></text>
<text x="267.3" y="374" font-size="10.5" fill="#111" stroke="#111" stroke-width="0.28">[Ru]<tspan font-size="6.9" dy="-4">2+*</tspan></text>
<text x="323" y="372.6" font-size="10.5" fill="#111" stroke="#111" stroke-width="0.28">[Ru]<tspan font-size="6.9" dy="-4">3+</tspan></text>
<text x="329" y="318.2" font-size="10.5" fill="#111" stroke="#111" stroke-width="0.28">TEOA<tspan font-size="6.9" dy="-4">+</tspan></text>
<text x="355.3" y="359.5" font-size="10.9" fill="#111" stroke="#111" stroke-width="0.28">TEOA</text>
<polygon points="292.3,335.6 291.5,335.9 290.7,336.3 289.9,336.6 289.1,337.1 288.4,337.5 287.6,338.0 286.9,338.4 286.2,339.0 285.5,339.5 284.8,340.1 284.2,340.7 283.5,341.4 282.9,342.0 282.3,342.8 281.7,343.5 281.1,344.3 280.6,345.0 280.0,345.9 279.5,346.7 279.0,347.6 278.5,348.5 278.1,349.4 277.6,350.4 277.2,351.4 275.3,351.0 276.8,359.8 282.6,353.1 280.7,352.7 281.0,351.8 281.4,350.9 281.7,350.0 282.1,349.1 282.4,348.3 282.8,347.5 283.2,346.7 283.7,345.9 284.1,345.2 284.6,344.5 285.0,343.8 285.5,343.1 286.0,342.5 286.6,341.9 287.1,341.3 287.7,340.7 288.3,340.1 288.9,339.6 289.5,339.1 290.1,338.6 290.8,338.2 291.5,337.8 292.2,337.4 292.9,337.0" fill="#8a8a8a"/>
<polygon points="291.3,386.0 292.2,386.7 293.1,387.2 294.0,387.8 294.9,388.3 295.9,388.7 296.8,389.1 297.8,389.5 298.8,389.8 299.8,390.1 300.8,390.4 301.8,390.6 302.8,390.7 303.8,390.8 304.8,390.9 305.9,390.9 306.9,390.9 308.0,390.8 309.0,390.7 310.1,390.5 311.1,390.3 312.2,390.0 313.3,389.7 314.4,389.4 315.5,389.0 316.5,390.4 321.4,383.4 312.8,383.8 313.9,385.3 313.0,385.7 312.0,386.1 311.1,386.4 310.2,386.7 309.3,387.0 308.4,387.2 307.5,387.4 306.6,387.5 305.7,387.6 304.8,387.7 303.9,387.7 303.0,387.7 302.1,387.7 301.2,387.6 300.4,387.4 299.5,387.3 298.6,387.1 297.7,386.8 296.8,386.5 295.9,386.2 295.0,385.8 294.1,385.3 293.2,384.9 292.3,384.4" fill="#8a8a8a"/>
<polygon points="338.1,359.8 338.2,358.9 338.3,357.9 338.3,357.0 338.2,356.0 338.1,355.1 338.0,354.2 337.8,353.2 337.5,352.3 337.3,351.4 336.9,350.5 336.6,349.6 336.2,348.7 335.7,347.9 335.2,347.0 334.6,346.1 334.0,345.3 333.4,344.5 332.7,343.7 332.0,342.9 331.2,342.1 330.4,341.3 329.5,340.5 328.6,339.8 327.6,339.0 328.4,337.3 319.3,336.4 324.6,343.9 325.5,342.1 326.4,342.7 327.2,343.3 328.1,344.0 328.9,344.6 329.6,345.2 330.4,345.9 331.0,346.6 331.7,347.2 332.3,347.9 332.8,348.6 333.4,349.3 333.8,350.0 334.3,350.8 334.7,351.5 335.1,352.3 335.4,353.0 335.7,353.8 335.9,354.6 336.2,355.4 336.3,356.3 336.5,357.1 336.6,358.0 336.6,358.9 336.7,359.8" fill="#8a8a8a"/>
<polygon points="355.5,349.1 354.8,348.8 354.0,348.4 353.3,348.0 352.6,347.6 351.9,347.1 351.2,346.7 350.6,346.2 349.9,345.6 349.3,345.1 348.7,344.5 348.2,343.9 347.6,343.2 347.1,342.5 346.6,341.8 346.1,341.1 345.6,340.3 345.1,339.5 344.7,338.7 344.3,337.8 343.9,337.0 343.5,336.0 343.1,335.1 342.8,334.1 342.4,333.1 344.3,332.7 338.4,325.8 337.0,334.8 338.9,334.4 339.3,335.5 339.8,336.5 340.3,337.5 340.8,338.5 341.4,339.4 341.9,340.3 342.5,341.2 343.1,342.0 343.7,342.8 344.3,343.6 345.0,344.3 345.7,345.0 346.4,345.7 347.1,346.3 347.8,346.9 348.5,347.4 349.3,347.9 350.1,348.4 350.9,348.8 351.7,349.3 352.5,349.6 353.3,350.0 354.2,350.2 355.1,350.5" fill="#8a8a8a"/>
<polygon points="287.4,397.1 284.3,397.8 281.4,398.4 278.5,398.9 275.7,399.3 273.0,399.6 270.3,399.7 267.8,399.8 265.3,399.7 262.9,399.5 260.6,399.2 258.4,398.8 256.3,398.3 254.3,397.7 252.3,396.9 250.4,396.1 248.7,395.1 247.0,394.0 245.3,392.9 243.8,391.6 242.3,390.2 240.9,388.7 239.6,387.1 238.4,385.4 237.2,383.6 239.0,382.7 232.4,378.4 232.3,386.3 234.2,385.5 235.5,387.4 237.0,389.2 238.5,390.9 240.1,392.5 241.8,393.9 243.6,395.2 245.5,396.4 247.4,397.5 249.4,398.4 251.4,399.2 253.6,399.9 255.8,400.5 258.0,400.9 260.4,401.2 262.8,401.4 265.3,401.5 267.8,401.5 270.4,401.3 273.1,401.0 275.9,400.7 278.7,400.1 281.6,399.5 284.6,398.8 287.6,397.9" fill="#8a8a8a"/>
<circle cx="292" cy="396.4" r="5.2" fill="url(#eg)" stroke="#3a3400" stroke-width="0.9"/>
<text x="291.2" y="399.29999999999995" font-size="8.8" text-anchor="middle" fill="#111" stroke="#111" stroke-width="0.28">e<tspan font-size="5.5" dy="-3.6">-</tspan></text>
<circle cx="307.8" cy="397.2" r="5.2" fill="url(#eg)" stroke="#3a3400" stroke-width="0.9"/>
<text x="307.0" y="400.09999999999997" font-size="8.8" text-anchor="middle" fill="#111" stroke="#111" stroke-width="0.28">e<tspan font-size="5.5" dy="-3.6">-</tspan></text>
<circle cx="299.2" cy="407.6" r="5.2" fill="url(#eg)" stroke="#3a3400" stroke-width="0.9"/>
<text x="298.4" y="410.5" font-size="8.8" text-anchor="middle" fill="#111" stroke="#111" stroke-width="0.28">e<tspan font-size="5.5" dy="-3.6">-</tspan></text>
</svg></body></html>
